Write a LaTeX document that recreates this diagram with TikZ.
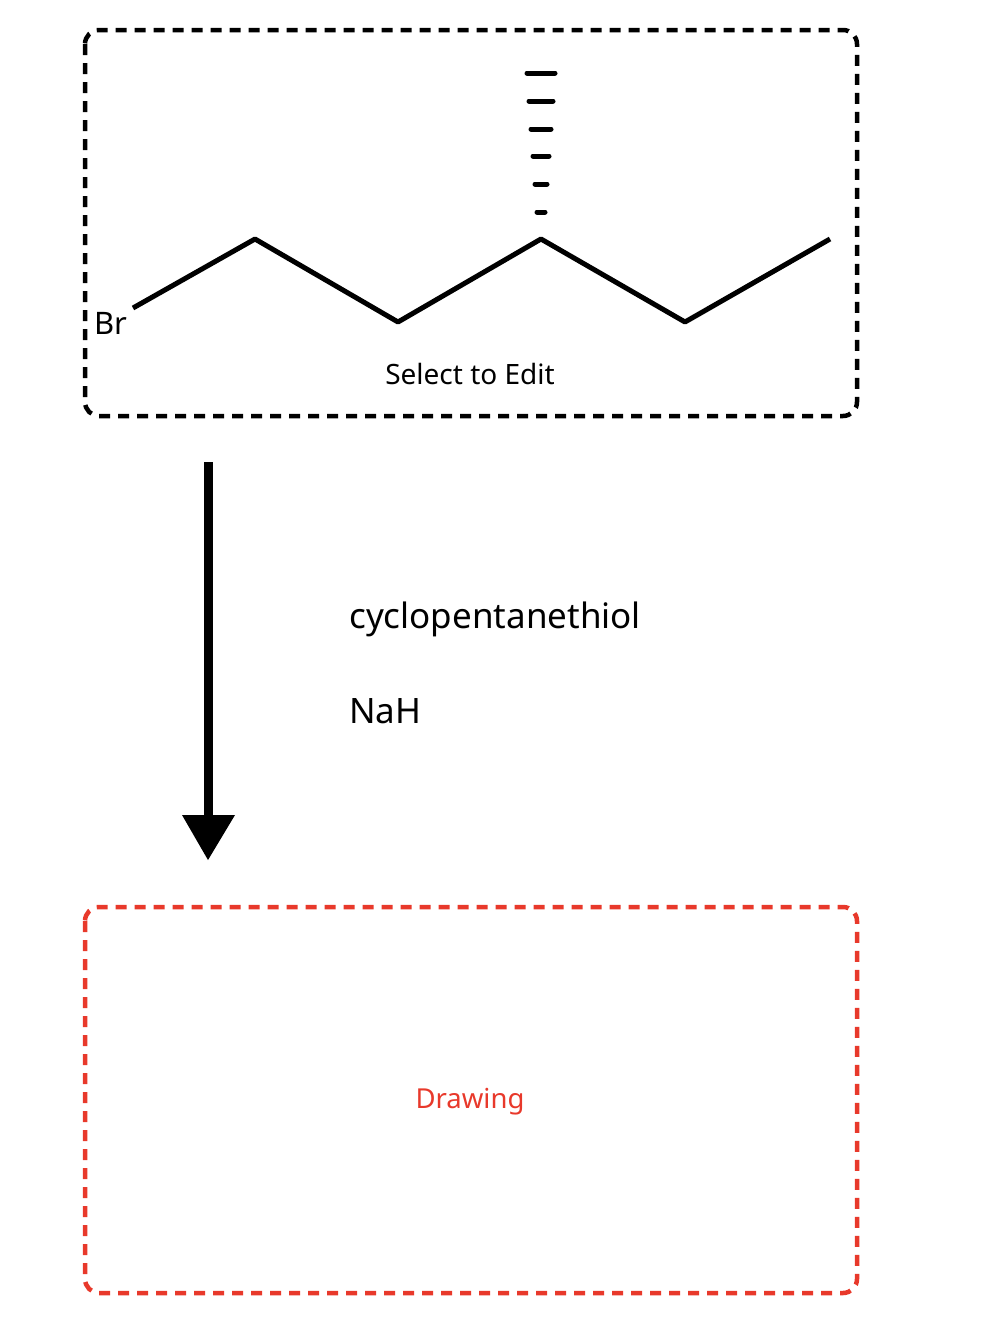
\documentclass[tikz,border=0pt]{standalone}
\usepackage{fontspec}
\setmainfont{Noto Sans}
\definecolor{rd}{HTML}{E8392B}
\begin{document}
\begin{tikzpicture}[x=1pt,y=-1pt,
  box/.style={dashed,line width=4.5pt,dash pattern=on 11pt off 8pt,rounded corners=14pt},
  bond/.style={line width=5pt,line cap=round}]
\useasboundingbox (0,0) rectangle (984,1344);
\draw[box] (85,30) rectangle (857,416);
\node[inner sep=0,font=\fontsize{31}{36}\selectfont] (br) at (111,323) {Br};
\coordinate (a1) at (133,308);
\coordinate (a2) at (255,239);
\coordinate (a3) at (398,322);
\coordinate (a4) at (541,239);
\coordinate (a5) at (685,322);
\coordinate (a6) at (830,239);
\draw[bond,line join=round,line cap=butt] (a1)--(a2)--(a3)--(a4)--(a5)--(a6);
\foreach \y/\w in {212/4,184/6,156/8,129/10,101/12,73/14}
  \draw[line width=5pt,line cap=round] ([xshift=-\w pt]541,\y)--([xshift=\w pt]541,\y);
\node[font=\fontsize{28}{32}\selectfont] (sel) at (470,374) {Select to Edit};
\coordinate (s) at (208,462);
\coordinate (e) at (208,818);
\draw[line width=9pt] (s)--(e);
\fill (182,815)--(235,815)--(208,860)--cycle;
\node[anchor=west,inner sep=0,font=\fontsize{35}{40}\selectfont] (r1) at (349,619) {cyclopentanethiol};
\node[anchor=west,inner sep=0,font=\fontsize{35}{40}\selectfont] (r2) at (349,711) {NaH};
\draw[box,rd] (85,907) rectangle (857,1293);
\node[rd,font=\fontsize{27.5}{30}\selectfont] (dr) at (470,1102) {Drawing};
\end{tikzpicture}
\end{document}
